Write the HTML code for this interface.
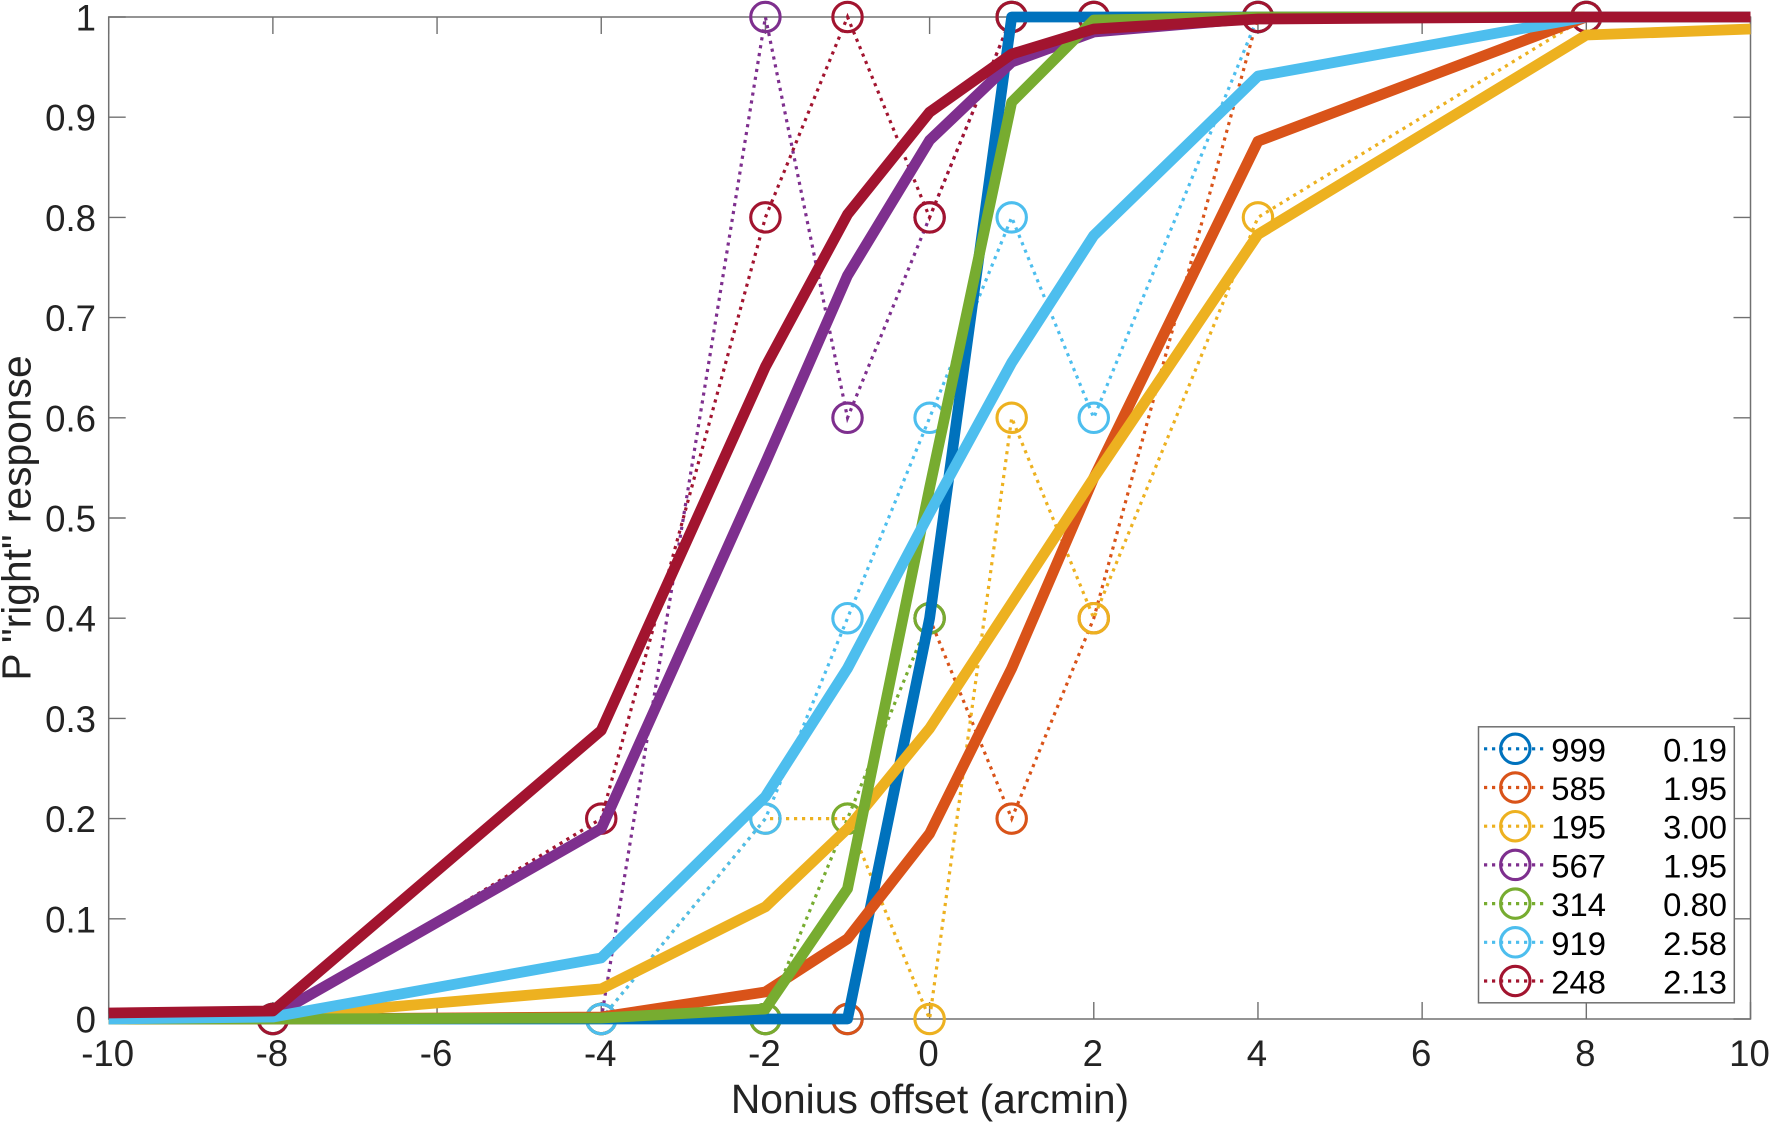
<!DOCTYPE html>
<html lang="en">
<head>
<meta charset="utf-8">
<title>P "right" response vs Nonius offset</title>
<style>
html,body{margin:0;padding:0;background:#fff;}
svg{display:block;}
text{font-family:"Liberation Sans",Arial,sans-serif;}
</style>
</head>
<body>
<svg id="chart" xmlns="http://www.w3.org/2000/svg" width="1770" height="1124" viewBox="0 0 1770 1124"></svg>
<script>
const xTicks = [-10,-8,-6,-4,-2,0,2,4,6,8,10];
const xTickLabels = ['-10','-8','-6','-4','-2','0','2','4','6','8','10'];
const yTicks = [0,0.1,0.2,0.3,0.4,0.5,0.6,0.7,0.8,0.9,1];
const yTickLabels = ['0','0.1','0.2','0.3','0.4','0.5','0.6','0.7','0.8','0.9','1'];
const markerX = [-8,-4,-2,-1,0,1,2,4,8];
const fitX = [-10,-8,-4,-2,-1,0,1,2,4,8,10];

const seriesIds = ['999','585','195','567','314','919','248'];
const seriesValues = ['0.19','1.95','3.00','1.95','0.80','2.58','2.13'];

const data999 = [0,0,0,0,0.4,1,1,1,1];
const data585 = [0,0,0,0,0.4,0.2,0.4,1,1];
const data195 = [0,0,0.2,0.2,0,0.6,0.4,0.8,1];
const data567 = [0,0,1,0.6,0.8,1,1,1,1];
const data314 = [0,0,0,0.2,0.4,1,1,1,1];
const data919 = [0,0,0.2,0.4,0.6,0.8,0.6,1,1];
const data248 = [0,0.2,0.8,1,0.8,1,1,1,1];

const fit999 = [0,0,0,0,0,0.4,1,1,1,1,1];
const fit585 = [0,0,0.002,0.027,0.08,0.185,0.35,0.54,0.876,1,1];
const fit195 = [0,0.002,0.03,0.112,0.19,0.29,0.415,0.54,0.783,0.982,0.988];
const fit567 = [0,0.003,0.19,0.555,0.742,0.877,0.955,0.985,0.999,1,1];
const fit314 = [0,0,0.001,0.01,0.13,0.53,0.915,0.997,1,1,1];
const fit919 = [0,0.002,0.061,0.222,0.35,0.505,0.655,0.782,0.941,1,1];
const fit248 = [0.006,0.008,0.288,0.651,0.803,0.905,0.963,0.988,0.998,1,1];

const allData = [data999,data585,data195,data567,data314,data919,data248];
const allFits = [fit999,fit585,fit195,fit567,fit314,fit919,fit248];
const colors = ['#0072BD','#D95319','#EDB120','#7E2F8E','#77AC30','#4DBEEE','#A2142F'];

const NS = 'http://www.w3.org/2000/svg';
const svg = document.getElementById('chart');
const L = 108.7, R = 1750.5, T = 17, B = 1019;
const AXIS = '#707070', TXT = '#232323';
const sx = v => L + (v + 10) / 20 * (R - L);
const sy = v => B - v * (B - T);

function mk(tag, attrs, parent) {
  const e = document.createElementNS(NS, tag);
  for (const k in attrs) e.setAttribute(k, attrs[k]);
  (parent || svg).appendChild(e);
  return e;
}
function pts(xs, ys) {
  return xs.map((x, i) => sx(x).toFixed(2) + ',' + sy(ys[i]).toFixed(2)).join(' ');
}

const axes = mk('g', {});



const box = mk('rect', {x:L, y:T, width:R-L, height:B-T, fill:'none', stroke:AXIS, 'stroke-width':1.5}, axes);



xTicks.forEach((v, i) => {
  const bottomTick = mk('line', {x1:sx(v), x2:sx(v), y1:B, y2:B-17, stroke:AXIS, 'stroke-width':1.4}, axes);
  
  
  const topTick = mk('line', {x1:sx(v), x2:sx(v), y1:T, y2:T+17, stroke:AXIS, 'stroke-width':1.4}, axes);
  
  
  const label = mk('text', {x:sx(v)-1, y:1066, 'font-size':36.6, fill:TXT, 'text-anchor':'middle'}, axes);
  
  
  label.textContent = xTickLabels[i];
});
yTicks.forEach((v, i) => {
  const leftTick = mk('line', {x1:L, x2:L+17, y1:sy(v), y2:sy(v), stroke:AXIS, 'stroke-width':1.4}, axes);
  
  
  const rightTick = mk('line', {x1:R, x2:R-17, y1:sy(v), y2:sy(v), stroke:AXIS, 'stroke-width':1.4}, axes);
  
  
  const label = mk('text', {x:96, y:sy(v)+13.5, 'font-size':36.6, fill:TXT, 'text-anchor':'end'}, axes);
  
  
  label.textContent = yTickLabels[i];
});

const xTitle = mk('text', {x:930, y:1113, 'font-size':40.8, fill:TXT, 'text-anchor':'middle'});


xTitle.textContent = 'Nonius offset (arcmin)';

const yTitle = mk('text', {x:0, y:0, transform:'translate(30.5 518) rotate(-90)', 'font-size':40.8, fill:TXT, 'text-anchor':'middle'});


yTitle.textContent = 'P "right" response';

allData.forEach((d, i) => {
  const g = mk('g', {});
  
  
  const line = mk('polyline', {points:pts(markerX, d), fill:'none', stroke:colors[i], 'stroke-width':3.2, 'stroke-dasharray':'3.2 4.8'}, g);
  
  
  d.forEach((v, j) => {
    const c = mk('circle', {cx:sx(markerX[j]), cy:sy(v), r:14.7, fill:'none', stroke:colors[i], 'stroke-width':3.1}, g);
    
    
  });
});

allFits.forEach((f, i) => {
  const fit = mk('polyline', {points:pts(fitX, f), fill:'none', stroke:colors[i], 'stroke-width':10.8, 'stroke-linejoin':'round'});
  
  
});

const legend = mk('g', {});


const legendBox = mk('rect', {x:1478.5, y:726.8, width:255.8, height:276, fill:'#fff', stroke:AXIS, 'stroke-width':1.5}, legend);


seriesIds.forEach((id, i) => {
  const y = 748.8 + i * 38.7;
  const row = mk('g', {}, legend);
  
  
  const sample = mk('line', {x1:1484, x2:1547, y1:y, y2:y, stroke:colors[i], 'stroke-width':3.2, 'stroke-dasharray':'3.2 4.8'}, row);
  
  
  const mark = mk('circle', {cx:1515.3, cy:y, r:14.7, fill:'none', stroke:colors[i], 'stroke-width':3.1}, row);
  
  
  const idText = mk('text', {x:1606, y:y+12.5, 'font-size':32.8, fill:'#000', 'text-anchor':'end'}, row);
  
  
  idText.textContent = id;
  const valText = mk('text', {x:1727, y:y+12.5, 'font-size':32.8, fill:'#000', 'text-anchor':'end'}, row);
  
  
  valText.textContent = seriesValues[i];
});
</script>
</body>
</html>
